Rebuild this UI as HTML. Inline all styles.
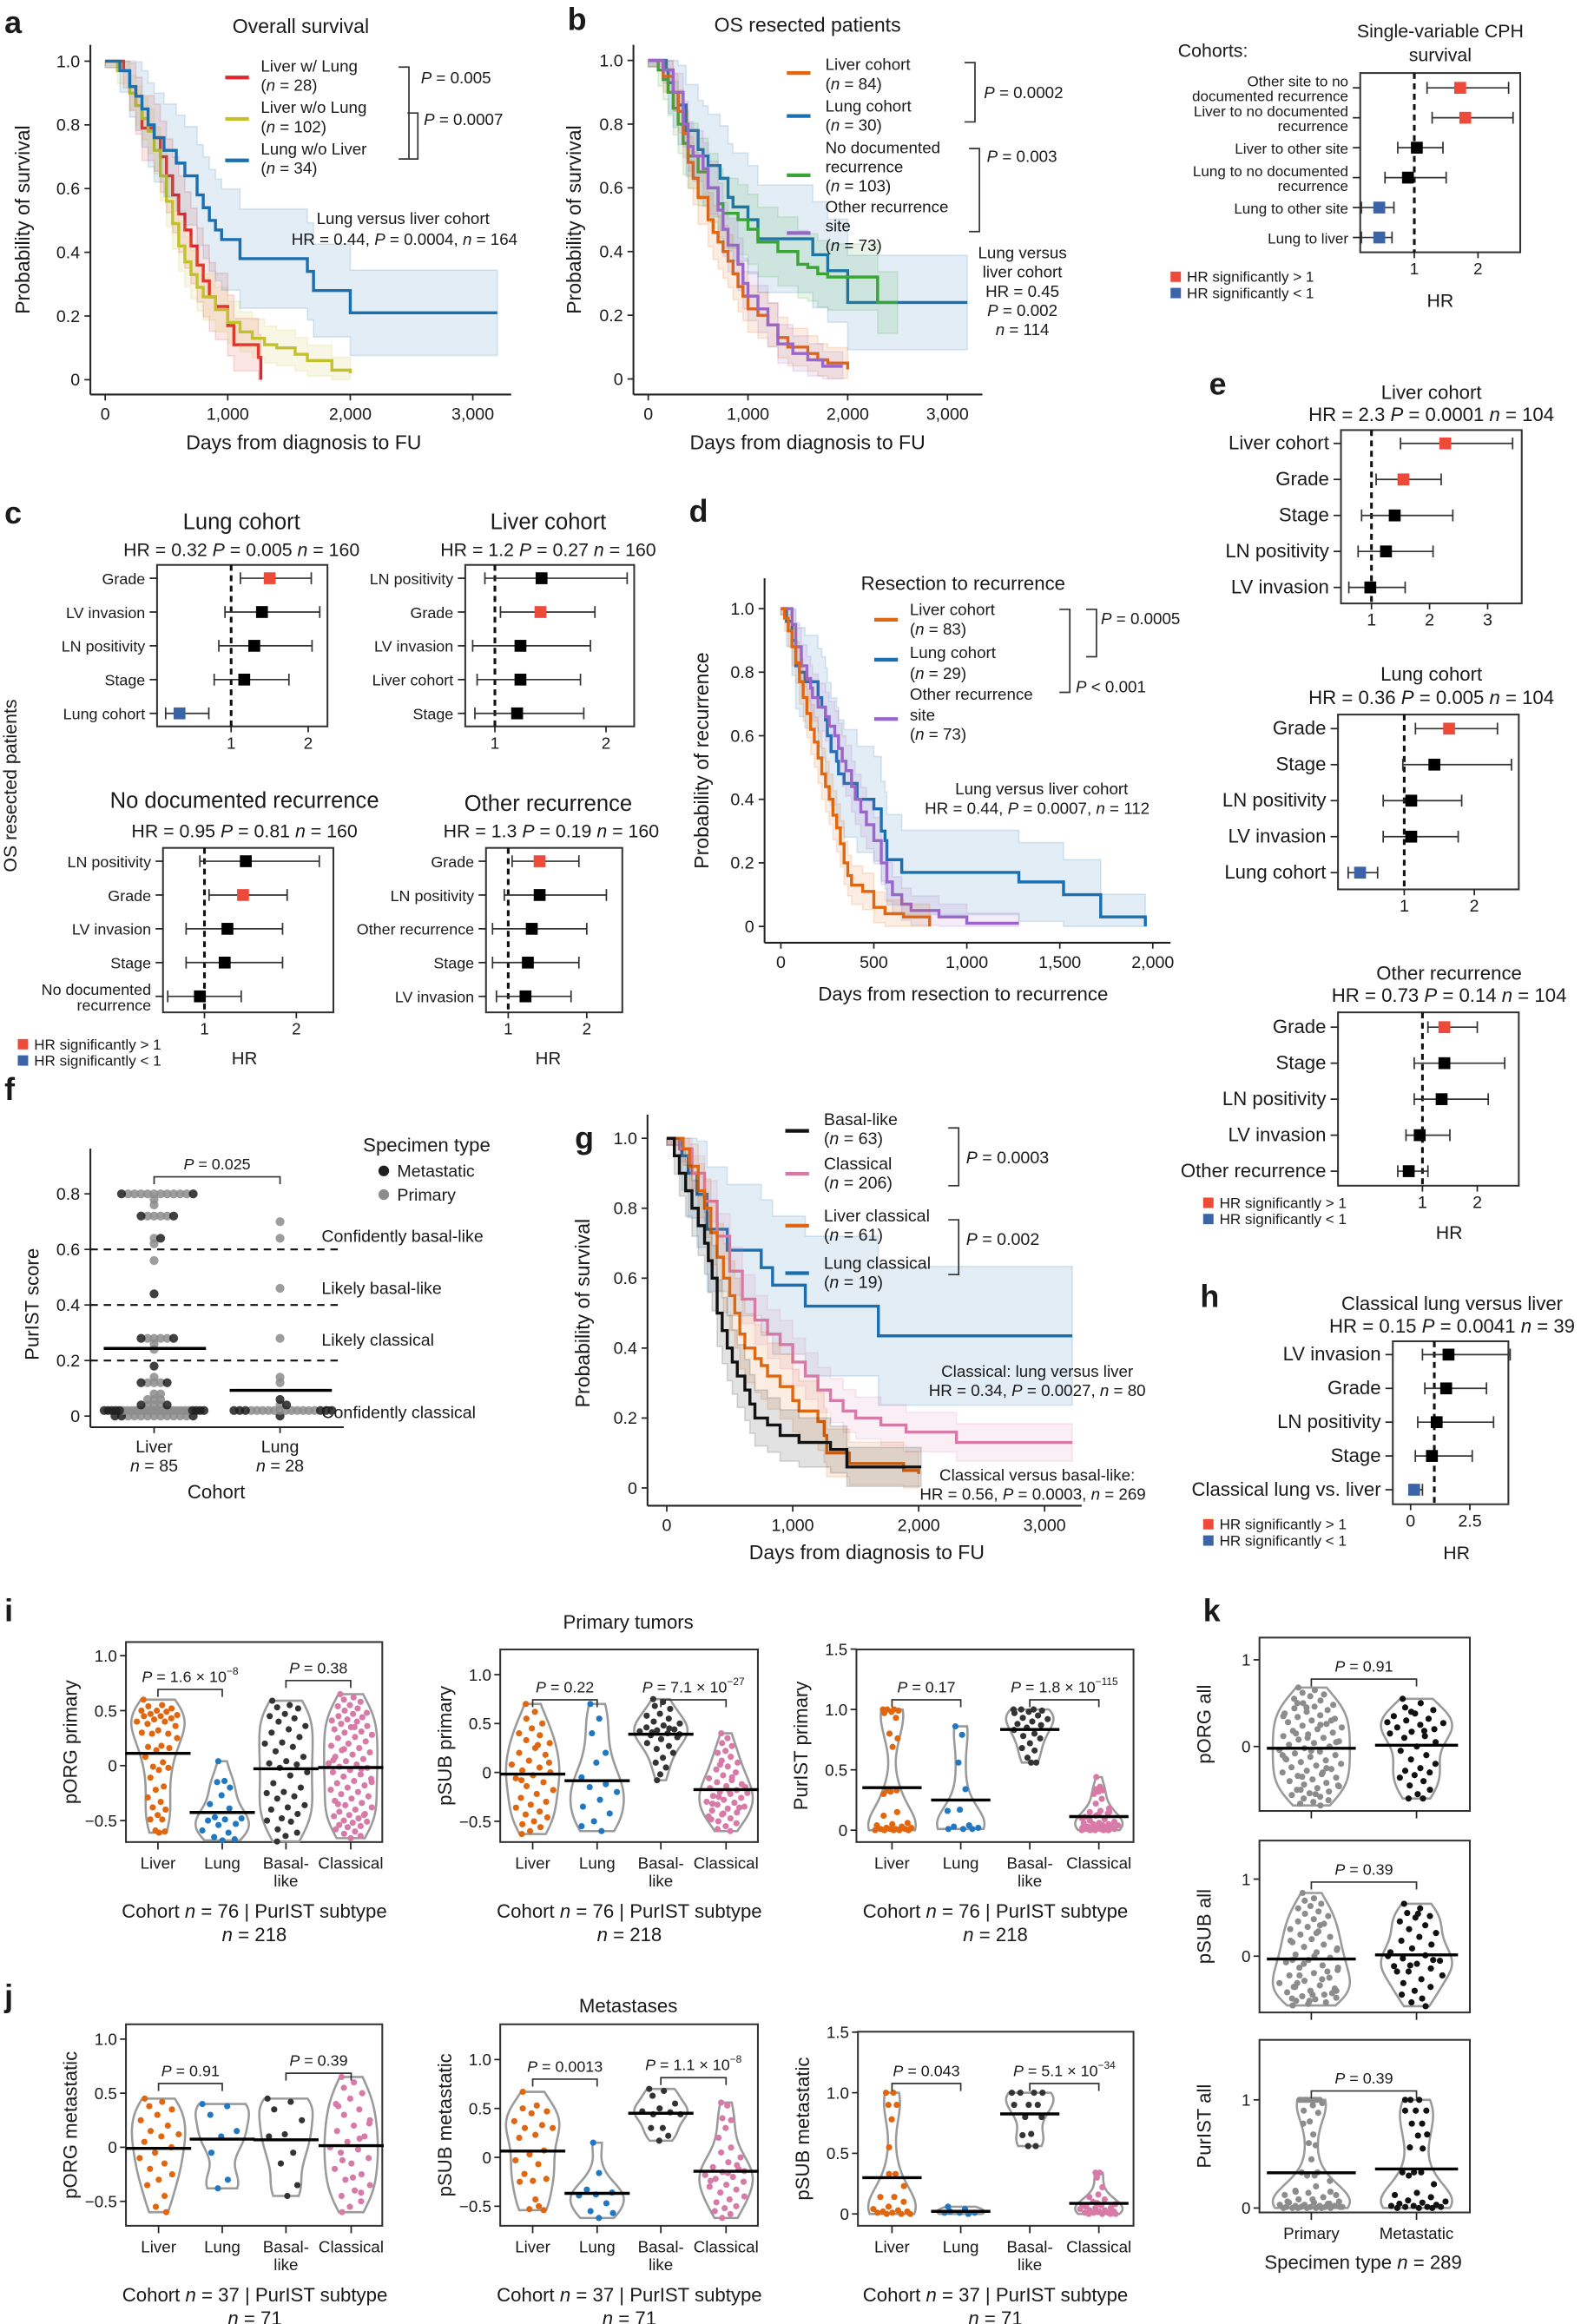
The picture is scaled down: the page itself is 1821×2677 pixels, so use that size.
<!DOCTYPE html>
<html><head><meta charset="utf-8"><title>Figure</title>
<style>
html,body{margin:0;padding:0;background:#fff;}
svg{display:block;font-family:"Liberation Sans",Arial,sans-serif;}
</style></head>
<body>
<svg id="fig" width="1821" height="2677" viewBox="0 0 1067 1568" xmlns="http://www.w3.org/2000/svg"></svg>
<script>
// ---------- DATA ----------
// Panel a
const aRedT=[0,150,200,250,300,350,400,450,500,550,600,650,700,750,800,850,900,1000,1050,1250,1270];
const aRedS=[1,.97,.92,.86,.79,.79,.76,.7,.64,.58,.52,.47,.42,.36,.31,.26,.23,.17,.11,.07,0];
const aYelT=[0,100,200,250,300,350,400,450,500,550,600,650,700,750,800,900,1000,1100,1200,1300,1400,1550,1650,1850,2000];
const aYelS=[1,.97,.9,.86,.82,.78,.72,.64,.56,.49,.42,.37,.33,.29,.26,.22,.18,.15,.13,.11,.1,.08,.06,.03,.02];
const aBluT=[0,120,200,250,300,350,400,480,580,650,750,800,850,900,950,1100,1650,1700,2000,3200];
const aBluS=[1,.97,.92,.89,.85,.8,.76,.72,.68,.64,.58,.54,.5,.47,.44,.38,.34,.28,.21,.21];
// Panel b
const bLivT=[0,150,250,300,350,400,450,500,600,650,700,750,800,850,900,950,1000,1100,1200,1300,1400,1600,1700,1800,2000];
const bLivS=[1,.95,.9,.84,.77,.68,.63,.57,.5,.46,.43,.4,.37,.33,.29,.26,.22,.2,.17,.13,.1,.08,.06,.05,.03];
const bLunT=[0,180,200,250,300,380,500,550,600,720,800,850,1000,1100,1650,1800,2000,3200];
const bLunS=[1,.97,.93,.9,.86,.78,.72,.7,.67,.63,.57,.54,.5,.44,.39,.34,.24,.24];
const bNdrT=[0,100,150,200,250,300,350,400,500,600,700,750,900,1000,1100,1300,1500,1600,1700,1800,2300,2500];
const bNdrS=[1,.97,.94,.9,.85,.8,.74,.7,.65,.6,.55,.52,.5,.47,.43,.4,.36,.35,.33,.32,.24,.24];
const bOthT=[0,150,250,350,400,450,550,600,700,750,800,900,950,1000,1100,1200,1300,1450,1600,1750,1950];
const bOthS=[1,.97,.9,.8,.73,.7,.66,.6,.53,.47,.42,.36,.3,.26,.22,.17,.11,.08,.06,.04,.04];
// Panel d
const dLivT=[0,20,40,60,80,100,120,140,160,180,200,220,240,260,280,300,320,340,360,380,440,500,560,660,800];
const dLivS=[1,.97,.93,.88,.83,.77,.72,.67,.62,.58,.53,.48,.44,.4,.35,.31,.26,.2,.16,.13,.11,.06,.04,.03,0];
const dLunT=[0,30,60,80,100,130,200,220,240,250,270,300,310,340,410,500,540,560,570,650,1280,1520,1720,1960];
const dLunS=[1,.96,.9,.82,.8,.77,.72,.69,.65,.6,.55,.52,.48,.45,.4,.37,.3,.27,.21,.17,.14,.1,.03,0];
const dOthT=[0,60,80,110,140,160,170,200,240,260,290,310,330,350,380,400,430,460,500,540,570,600,650,700,850,1000,1280];
const dOthS=[1,.95,.88,.82,.78,.75,.72,.69,.66,.63,.6,.56,.52,.49,.44,.4,.36,.32,.27,.2,.14,.1,.07,.05,.03,.01,.01];
// Panel g
const gBasT=[0,60,100,150,200,250,300,330,360,400,440,480,520,560,620,660,700,800,900,1050,1300,1430,2020];
const gBasS=[1,.95,.9,.85,.8,.75,.7,.65,.6,.5,.45,.4,.36,.32,.28,.24,.2,.18,.15,.13,.11,.06,.06];
const gClaT=[0,100,200,300,400,500,600,700,800,900,1000,1100,1200,1300,1400,1500,1700,1900,2300,3220];
const gClaS=[1,.97,.9,.82,.72,.62,.54,.48,.44,.41,.36,.32,.28,.25,.22,.2,.18,.16,.13,.13];
const gLivT=[0,130,180,250,300,350,400,450,500,540,580,620,700,750,800,900,1000,1050,1200,1250,1270,1450,1880,2000];
const gLivS=[1,.97,.92,.85,.8,.73,.66,.6,.55,.5,.44,.4,.37,.35,.32,.29,.25,.22,.19,.15,.1,.07,.05,.04];
const gLunT=[0,120,170,240,320,480,750,840,1100,1680,3220];
const gLunS=[1,.95,.9,.84,.74,.68,.63,.58,.52,.435,.435];
// Forest plots
const cphLabels=[["Other site to no","documented recurrence"],["Liver to no documented","recurrence"],["Liver to other site"],["Lung to no documented","recurrence"],["Lung to other site"],["Lung to liver"]];
const cphHR=[1.72,1.8,1.04,0.9,0.45,0.45];
const cphLo=[1.2,1.28,0.74,0.54,0.17,0.17];
const cphHi=[2.48,2.55,1.45,1.5,0.68,0.65];
const cLungLabels=[["Grade"],["LV invasion"],["LN positivity"],["Stage"],["Lung cohort"]];
const cLungHR=[1.5,1.4,1.3,1.17,0.33];
const cLungLo=[1.12,0.92,0.84,0.78,0.15];
const cLungHi=[2.04,2.15,2.05,1.75,0.71];
const cLivLabels=[["LN positivity"],["Grade"],["LV invasion"],["Liver cohort"],["Stage"]];
const cLivHR=[1.42,1.41,1.23,1.23,1.2];
const cLivLo=[0.91,1.05,0.8,0.84,0.82];
const cLivHi=[2.19,1.9,1.86,1.77,1.8];
const cNdrLabels=[["LN positivity"],["Grade"],["LV invasion"],["Stage"],["No documented","recurrence"]];
const cNdrHR=[1.45,1.42,1.25,1.22,0.95];
const cNdrLo=[0.95,1.05,0.8,0.8,0.6];
const cNdrHi=[2.25,1.9,1.85,1.85,1.4];
const cOthLabels=[["Grade"],["LN positivity"],["Other recurrence"],["Stage"],["LV invasion"]];
const cOthHR=[1.4,1.4,1.3,1.25,1.22];
const cOthLo=[1.05,0.95,0.8,0.8,0.85];
const cOthHi=[1.9,2.25,2.0,1.9,1.8];
const eLivLabels=[["Liver cohort"],["Grade"],["Stage"],["LN positivity"],["LV invasion"]];
const eLivHR=[2.27,1.55,1.4,1.25,0.98];
const eLivLo=[1.5,1.08,0.83,0.77,0.61];
const eLivHi=[3.43,2.2,2.4,2.06,1.58];
const eLunLabels=[["Grade"],["Stage"],["LN positivity"],["LV invasion"],["Lung cohort"]];
const eLunHR=[1.64,1.43,1.1,1.1,0.37];
const eLunLo=[1.16,0.98,0.7,0.7,0.2];
const eLunHi=[2.33,2.53,1.82,1.77,0.62];
const eOthLabels=[["Grade"],["Stage"],["LN positivity"],["LV invasion"],["Other recurrence"]];
const eOthHR=[1.4,1.4,1.35,0.95,0.75];
const eOthLo=[1.1,0.85,0.85,0.7,0.55];
const eOthHi=[2.0,2.5,2.2,1.5,1.1];
const hLabels=[["LV invasion"],["Grade"],["LN positivity"],["Stage"],["Classical lung vs. liver"]];
const hHR=[1.6,1.5,1.1,0.9,0.15];
const hLo=[0.5,0.6,0.3,0.2,0.05];
const hHi=[4.2,3.2,3.5,2.6,0.5];
// Panel f
const fLivPrim=[0.79,0.79,0.79,0.79,0.79,0.79,0.79,0.79,0.79,0.79,0.78,0.75,0.72,0.72,0.72,0.72,0.63,0.61,0.55,0.27,0.27,0.27,0.27,0.25,0.23,0.13,0.12,0.12,0.12,0.08,0.08,0.05,0.05,0.05,0.03,0.03,0.03,0.01,0.01,0.01,0.01,0.01,0.01,0.01,0.01,0.01,0.01,0.01,0.01,0.01,0.01,0.01,0.01,0.01,0.01,0,0,0,0,0,0,0,0,0,0];
const fLivMet=[0.79,0.79,0.72,0.72,0.63,0.44,0.27,0.27,0.18,0.11,0.11,0.03,0.03,0.02,0.01,0.01,0.01,0.01,0.01,0.01,0.01,0.01,0,0,0];
const fLunPrim=[0.69,0.63,0.45,0.27,0.13,0.12,0.04,0.01,0.01,0.01,0.01,0.01,0.01,0.01,0.01,0.01,0.01,0.01,0.01];
const fLunMet=[0.05,0.03,0.01,0.01,0.01,0.01,0.01,0.01,0];
// Panel i (primary)
const iOrgLiver=[0.6,0.55,0.54,0.52,0.5,0.5,0.49,0.47,0.46,0.45,0.45,0.43,0.42,0.4,0.4,0.38,0.36,0.32,0.3,0.29,0.29,0.25,0.18,0.17,0.16,0.14,0.08,0.03,-0.01,-0.02,-0.04,-0.11,-0.19,-0.22,-0.29,-0.33,-0.38,-0.4,-0.45,-0.49,-0.49,-0.59,-0.6,-0.61];
const iOrgLung=[0.04,-0.14,-0.15,-0.2,-0.27,-0.35,-0.39,-0.47,-0.48,-0.49,-0.5,-0.53,-0.54,-0.59,-0.61,-0.65,-0.67,-0.68];
const iOrgBasal=[0.59,0.55,0.53,0.52,0.47,0.45,0.43,0.4,0.36,0.33,0.3,0.26,0.21,0.2,0.17,0.13,0.08,0.04,0.02,0.01,-0.02,-0.06,-0.09,-0.16,-0.2,-0.24,-0.25,-0.28,-0.3,-0.36,-0.38,-0.4,-0.44,-0.48,-0.5,-0.51,-0.58,-0.61,-0.64,-0.69];
const iOrgClass=[0.65,0.62,0.6,0.58,0.55,0.54,0.52,0.5,0.48,0.47,0.45,0.44,0.42,0.41,0.4,0.38,0.36,0.35,0.33,0.31,0.3,0.28,0.26,0.25,0.22,0.2,0.18,0.16,0.14,0.12,0.1,0.08,0.06,0.04,0.02,0.01,-0.01,-0.02,-0.04,-0.06,-0.08,-0.1,-0.12,-0.14,-0.16,-0.18,-0.2,-0.22,-0.24,-0.26,-0.28,-0.3,-0.32,-0.34,-0.36,-0.38,-0.4,-0.42,-0.44,-0.45,-0.46,-0.48,-0.5,-0.51,-0.52,-0.54,-0.55,-0.56,-0.58,-0.6,-0.62,-0.64,-0.66,0.05,-0.03,0.15,-0.15,0.35,-0.35,-0.45];
const iSubLiver=[0.7,0.62,0.55,0.5,0.45,0.4,0.38,0.33,0.3,0.25,0.2,0.18,0.12,0.08,0.05,0.02,0,-0.03,-0.06,-0.1,-0.14,-0.18,-0.22,-0.26,-0.3,-0.33,-0.36,-0.4,-0.43,-0.46,-0.5,-0.53,-0.56,-0.6,-0.63,0.28,-0.08,0.1];
const iSubLung=[0.7,0.55,0.4,0.2,0.1,-0.05,-0.12,-0.15,-0.2,-0.28,-0.35,-0.42,-0.5,-0.55,-0.6];
const iSubBasal=[0.75,0.72,0.68,0.65,0.6,0.58,0.55,0.52,0.5,0.48,0.46,0.44,0.43,0.42,0.4,0.38,0.36,0.34,0.3,0.27,0.24,0.2,0.15,0.1,0.05,-0.02,-0.08,0.45,0.41,0.39];
const iSubClass=[0.4,0.35,0.3,0.27,0.22,0.2,0.16,0.12,0.1,0.06,0.03,0,-0.03,-0.06,-0.08,-0.1,-0.12,-0.14,-0.16,-0.18,-0.2,-0.21,-0.22,-0.24,-0.26,-0.28,-0.3,-0.31,-0.33,-0.35,-0.37,-0.39,-0.41,-0.43,-0.45,-0.47,-0.5,-0.52,-0.55,-0.58,-0.6,-0.25,-0.15,-0.19,-0.32,-0.36,-0.42,-0.48,-0.05,0.08];
const iPurLiver=[1,1,1,0.99,0.98,0.97,0.93,0.8,0.76,0.69,0.33,0.33,0.32,0.3,0.15,0.12,0.06,0.05,0.04,0.03,0.02,0.02,0.01,0.01,0.01,0.01,0,0,0,0,0];
const iPurLung=[0.86,0.79,0.56,0.34,0.17,0.16,0.04,0.03,0.02,0.01,0.01,0.01];
const iPurBasal=[1,1,1,0.99,0.98,0.97,0.95,0.93,0.92,0.9,0.88,0.87,0.85,0.83,0.8,0.78,0.76,0.72,0.68,0.66,0.6,0.56,0.56];
const iPurClass=[0.44,0.36,0.34,0.33,0.32,0.3,0.26,0.22,0.18,0.16,0.15,0.14,0.12,0.1,0.09,0.08,0.07,0.06,0.06,0.05,0.05,0.04,0.04,0.03,0.03,0.02,0.02,0.02,0.01,0.01,0.01,0.01,0,0,0,0,0,0.15,0.13,0.11];
// Panel j (metastases)
const jOrgLiver=[0.45,0.42,0.38,0.35,0.3,0.25,0.2,0.15,0.12,0.1,0.05,0,-0.05,-0.1,-0.15,-0.2,-0.25,-0.3,-0.35,-0.45,-0.55,-0.6];
const jOrgLung=[0.4,0.38,0.3,0.15,0.1,-0.05,-0.3,-0.38];
const jOrgBasal=[0.45,0.42,0.35,0.25,0.12,0.1,-0.05,-0.15,-0.35,-0.45];
const jOrgClass=[0.65,0.6,0.55,0.5,0.45,0.4,0.35,0.3,0.25,0.2,0.15,0.1,0.05,0,-0.02,-0.05,-0.1,-0.15,-0.2,-0.25,-0.3,-0.35,-0.4,-0.45,-0.5,-0.55,-0.6,0.08,-0.12,0.22,-0.28,0.38,-0.42];
const jSubLiver=[0.67,0.53,0.5,0.47,0.45,0.37,0.33,0.3,0.3,0.23,0.2,0.07,0.03,-0.03,-0.07,-0.17,-0.22,-0.24,-0.25,-0.5,-0.53,-0.54,-0.43];
const jSubLung=[0.15,-0.16,-0.33,-0.36,-0.38,-0.39,-0.47,-0.55,-0.57,-0.62];
const jSubBasal=[0.7,0.68,0.63,0.55,0.5,0.47,0.46,0.44,0.44,0.3,0.3,0.22,0.17];
const jSubClass=[0.56,0.53,0.4,0.38,0.3,0.2,0.1,0.05,0,-0.05,-0.1,-0.12,-0.15,-0.18,-0.2,-0.22,-0.25,-0.28,-0.3,-0.33,-0.36,-0.4,-0.43,-0.46,-0.5,-0.52,-0.55,-0.58,-0.62,-0.14,-0.16,-0.24,-0.08];
const jPurLiver=[1,1,0.9,0.9,0.78,0.55,0.33,0.33,0.23,0.14,0.14,0.1,0.06,0.04,0.03,0.02,0.02,0.01,0.01,0,0,0];
const jPurLung=[0.06,0.04,0.02,0.01,0.01,0.01,0];
const jPurBasal=[1,1,1,1,0.9,0.9,0.9,0.8,0.8,0.66,0.65,0.56,0.56];
const jPurClass=[0.34,0.34,0.3,0.22,0.16,0.14,0.12,0.1,0.08,0.07,0.06,0.05,0.05,0.04,0.03,0.03,0.02,0.02,0.01,0.01,0.01,0,0,0,0,0.09,0.07];
// Panel k
const kOrgPrim=[0.68,0.65,0.62,0.6,0.58,0.55,0.53,0.5,0.48,0.46,0.44,0.42,0.4,0.38,0.36,0.34,0.32,0.3,0.28,0.26,0.24,0.22,0.2,0.18,0.16,0.14,0.12,0.1,0.08,0.06,0.04,0.02,0,-0.02,-0.04,-0.06,-0.08,-0.1,-0.12,-0.14,-0.16,-0.18,-0.2,-0.22,-0.24,-0.26,-0.28,-0.3,-0.32,-0.34,-0.36,-0.38,-0.4,-0.42,-0.44,-0.46,-0.48,-0.5,-0.52,-0.54,-0.56,-0.58,-0.6,-0.62,-0.64,-0.66,-0.68,0.45,0.35,0.25,0.15,0.05,-0.05,-0.15,-0.25,-0.35,-0.45,-0.55,0.5,0.3,0.1,-0.1,-0.3,-0.5];
const kOrgMet=[0.55,0.5,0.45,0.42,0.38,0.35,0.32,0.3,0.27,0.25,0.22,0.2,0.17,0.15,0.12,0.1,0.05,0,-0.05,-0.1,-0.15,-0.2,-0.25,-0.28,-0.3,-0.33,-0.36,-0.4,-0.45,-0.5,-0.55,-0.6,-0.6,0.4,0.28,0.18];
const kSubPrim=[0.82,0.75,0.72,0.68,0.65,0.62,0.58,0.55,0.52,0.48,0.45,0.42,0.38,0.35,0.32,0.28,0.25,0.22,0.18,0.15,0.12,0.08,0.05,0.02,-0.02,-0.05,-0.08,-0.12,-0.15,-0.18,-0.22,-0.25,-0.28,-0.32,-0.35,-0.38,-0.4,-0.42,-0.45,-0.47,-0.5,-0.52,-0.54,-0.56,-0.58,-0.6,-0.62,-0.64,-0.3,-0.35,-0.45,-0.5,-0.55,-0.2,-0.1,0.1,0.3,-0.4,-0.48,-0.58,0.2,0.4,-0.25,-0.15,0,-0.05];
const kSubMet=[0.68,0.62,0.56,0.52,0.5,0.45,0.4,0.35,0.3,0.25,0.2,0.15,0.1,0.05,0.01,-0.03,-0.06,-0.1,-0.13,-0.16,-0.2,-0.25,-0.3,-0.35,-0.4,-0.45,-0.5,-0.55,-0.6,-0.65,0.55,-0.2,-0.05,-0.12,0.0];
const kPurPrim=[1,1,1,1,1,1,1,1,0.97,0.95,0.9,0.88,0.8,0.78,0.68,0.6,0.58,0.45,0.33,0.33,0.3,0.25,0.2,0.16,0.15,0.14,0.12,0.1,0.08,0.06,0.05,0.05,0.04,0.03,0.03,0.02,0.02,0.02,0.01,0.01,0.01,0.01,0.01,0,0,0,0,0,0,0,0.12,0.08,0.06,0.04,0.02,0.01,0.3,0.15];
const kPurMet=[1,1,1,0.9,0.9,0.9,0.78,0.78,0.68,0.67,0.56,0.55,0.33,0.33,0.33,0.3,0.22,0.14,0.12,0.1,0.07,0.06,0.05,0.04,0.03,0.02,0.02,0.01,0.01,0.01,0,0,0];

// ---------- HELPERS ----------
const NS='http://www.w3.org/2000/svg';
const svg=document.getElementById('fig');
function E(p,tag,at,name){
  const el=document.createElementNS(NS,tag);
  for(const k in at) el.setAttribute(k,at[k]);
  
  
  p.appendChild(el);return el;
}
function G(name){return E(svg,'g',{},name);}
function T(p,x,y,s,o,name){
  o=o||{};
  const at={x:x,y:y,'font-size':o.fs||12,'text-anchor':o.a||'start',fill:o.c||'#1a1a1a'};
  if(o.b) at['font-weight']='bold';
  if(o.r) at.transform='rotate(-90 '+x+' '+y+')';
  const el=E(p,'text',at,name);
  el.innerHTML=s;return el;
}
function L(p,x1,y1,x2,y2,st,name,w,dash){
  const at={x1:x1,y1:y1,x2:x2,y2:y2,stroke:st||'#222','stroke-width':w||1};
  if(dash) at['stroke-dasharray']=dash;
  return E(p,'line',at,name);
}
const I=s=>'<tspan font-style="italic">'+s+'</tspan>';

function kmAxes(g,x0,x1,ybot,ytop,X,Y,xt,xl,yt,yl,fs){
  L(g,x0,ytop,x0,ybot,'#222','y-axis-line',1.2);
  L(g,x0,ybot,x1,ybot,'#222','x-axis-line',1.2);
  yt.forEach((v,i)=>{L(g,x0-4,Y(v),x0,Y(v),'#222','y-tick');T(g,x0-7,Y(v)+4,yl[i],{a:'end',fs:fs||11.5},'y-tick-label');});
  xt.forEach((v,i)=>{L(g,X(v),ybot,X(v),ybot+4,'#222','x-tick');T(g,X(v),ybot+17,xl[i],{a:'middle',fs:fs||11.5},'x-tick-label');});
}
function km(g,X,Y,t,s,col,k,name){
  const hw=v=>0.02+k*Math.sqrt(Math.max(v*(1-v),0));
  const U=t.map((tt,i)=>Math.min(1,s[i]+hw(s[i])));
  const D=t.map((tt,i)=>Math.max(0,s[i]-hw(s[i])));
  let pts=[];
  for(let i=0;i<t.length;i++){ if(i>0) pts.push([X(t[i]),Y(U[i-1])]); pts.push([X(t[i]),Y(U[i])]); }
  let pb=[];
  for(let i=t.length-1;i>=0;i--){ pb.push([X(t[i]),Y(D[i])]); if(i>0) pb.push([X(t[i]),Y(D[i-1])]); }
  E(g,'polygon',{points:pts.concat(pb).map(p=>p.join(',')).join(' '),fill:col,'fill-opacity':0.12,stroke:col,'stroke-opacity':0.15},name+'-ci-band');
  let d='M'+X(t[0])+','+Y(s[0]);
  for(let i=1;i<t.length;i++) d+=' H'+X(t[i])+' V'+Y(s[i]);
  E(g,'path',{d:d,fill:'none',stroke:col,'stroke-width':2},name+'-curve');
}
function legLine(g,x,y,col,name){L(g,x,y,x+16,y,col,name,2.5);}
function bracket(g,x,y1,y2,name){E(g,'path',{d:'M'+(x-7)+','+y1+' H'+x+' V'+y2+' H'+(x-7),fill:'none',stroke:'#333','stroke-width':1},name);}

function forest(g,c,labels,hr,lo,hi,name){
  const X=v=>c.one+(v-1)*c.unit;
  E(g,'rect',{x:c.x0,y:c.y0,width:c.x1-c.x0,height:c.y1-c.y0,fill:'none',stroke:'#333','stroke-width':1.2},name+'-frame');
  L(g,X(1),c.y0,X(1),c.y1,'#111',name+'-reference-line',1.8,'4,3');
  c.ticks.forEach((v,i)=>{L(g,X(v),c.y1,X(v),c.y1+4,'#222',name+'-x-tick');T(g,X(v),c.y1+15,c.tl[i],{a:'middle',fs:c.tfs||11},name+'-x-tick-label');});
  labels.forEach((lab,i)=>{
    const y=c.r0+i*c.step;
    L(g,c.x0-5,y,c.x0,y,'#222',name+'-y-tick');
    if(lab.length===1) T(g,c.x0-8,y+4,lab[0],{a:'end',fs:c.fs},name+'-row-label');
    else {T(g,c.x0-8,y-1,lab[0],{a:'end',fs:c.fs},name+'-row-label');T(g,c.x0-8,y+c.fs-1,lab[1],{a:'end',fs:c.fs},name+'-row-label');}
    L(g,X(lo[i]),y,X(hi[i]),y,'#333',name+'-ci',1);
    L(g,X(lo[i]),y-4,X(lo[i]),y+4,'#333',name+'-ci-cap',1);
    L(g,X(hi[i]),y-4,X(hi[i]),y+4,'#333',name+'-ci-cap',1);
    const col=lo[i]>1?'#ee4a3a':(hi[i]<1?'#3b63a8':'#000');
    const sz=c.sq||8;
    E(g,'rect',{x:X(hr[i])-sz/2,y:y-sz/2,width:sz,height:sz,fill:col},name+'-hr-point');
  });
}
function sigLegend(g,x,y,fs,name){
  E(g,'rect',{x:x,y:y-7,width:7,height:7,fill:'#ee4a3a'},name+'-red-swatch');
  T(g,x+11,y,'HR significantly &gt; 1',{fs:fs},name+'-red-label');
  E(g,'rect',{x:x,y:y+4,width:7,height:7,fill:'#3b63a8'},name+'-blue-swatch');
  T(g,x+11,y+11,'HR significantly &lt; 1',{fs:fs},name+'-blue-label');
}
function kde(vals,y){const mn=Math.min(...vals),mx=Math.max(...vals);const bw=0.12*(mx-mn)+0.03;let s=0;vals.forEach(v=>{s+=Math.exp(-0.5*((y-v)/bw)**2);});return s;}
function violin(g,cx,vals,Y,col,maxW,name){
  const mn=Math.min(...vals),mx=Math.max(...vals);
  const N=40,ys=[],ds=[];
  for(let i=0;i<=N;i++){const v=mn+(mx-mn)*i/N;ys.push(v);ds.push(kde(vals,v));}
  const dm=Math.max(...ds);
  const W=v=>Math.max(2,kde(vals,v)/dm*maxW);
  let d='M'+(cx-W(ys[0]))+','+Y(ys[0]);
  for(let i=1;i<=N;i++) d+=' L'+(cx-W(ys[i]))+','+Y(ys[i]);
  for(let i=N;i>=0;i--) d+=' L'+(cx+W(ys[i]))+','+Y(ys[i]);
  d+=' Z';
  E(g,'path',{d:d,fill:'none',stroke:'#9a9a9a','stroke-width':1.5},name+'-violin');
  vals.forEach((v,i)=>{
    const j=(((i*0.6180339)%1)-0.5)*2*W(v)*0.85;
    E(g,'circle',{cx:cx+j,cy:Y(v),r:2.1,fill:col},name+'-point');
  });
  const m=vals.reduce((a,b)=>a+b,0)/vals.length;
  L(g,cx-maxW-4,Y(m),cx+maxW+4,Y(m),'#000',name+'-mean-line',2);
}
function vpanel(g,c,groups,name){
  const Y=v=>c.y0v-(v*c.unit);
  E(g,'rect',{x:c.x0,y:c.top,width:c.x1-c.x0,height:c.bot-c.top,fill:'none',stroke:'#333','stroke-width':1.2},name+'-frame');
  c.yt.forEach((v,i)=>{L(g,c.x0-4,Y(v),c.x0,Y(v),'#222',name+'-y-tick');T(g,c.x0-6,Y(v)+4,c.yl[i],{a:'end',fs:11},name+'-y-tick-label');});
  T(g,c.x0-33,(c.top+c.bot)/2,c.ylab,{a:'middle',fs:13,r:1},name+'-y-axis-title');
  groups.forEach(gr=>{
    L(g,gr.x,c.bot,gr.x,c.bot+5,'#222',name+'-x-tick');
    violin(g,gr.x,gr.v,Y,gr.c,gr.w||18,name+'-'+gr.n);
  });
  return Y;
}
function pbr(g,x1,x2,y,txt,name){
  E(g,'path',{d:'M'+x1+','+(y+5)+' V'+y+' H'+x2+' V'+(y+5),fill:'none',stroke:'#333','stroke-width':1},name+'-bracket');
  T(g,(x1+x2)/2,y-5,txt,{a:'middle',fs:10.5},name+'-p-value');
}

// ---------- PANEL LETTERS ----------
const letters=G('panel-letters');
[['a',3,22],['b',383,20],['c',3,353],['d',465,352],['e',816,266],['f',3,742],['g',388,775],['h',810,882],['i',3,1094],['j',3,1354],['k',812,1094]].forEach(l=>T(letters,l[1],l[2],l[0],{fs:21,b:1},'panel-letter-'+l[0]));

// ---------- PANEL A ----------
(function(){
const g=G('panel-a');
const X=t=>71+t*0.0827, Y=s=>256-s*215;
kmAxes(g,61,345,266,30,X,Y,[0,1000,2000,3000],['0','1,000','2,000','3,000'],[0,.2,.4,.6,.8,1],['0','0.2','0.4','0.6','0.8','1.0']);
km(g,X,Y,aRedT,aRedS,'#e3262d',0.2,'liver-with-lung');
km(g,X,Y,aYelT,aYelS,'#c3c12a',0.12,'liver-without-lung');
km(g,X,Y,aBluT,aBluS,'#1a6fb0',0.28,'lung-without-liver');
T(g,203,22,'Overall survival',{a:'middle',fs:13.5},'chart-title');
T(g,20,148,'Probability of survival',{a:'middle',fs:13.5,r:1},'y-axis-title');
T(g,205,303,'Days from diagnosis to FU',{a:'middle',fs:13.5},'x-axis-title');
const fs=11;
legLine(g,152,52,'#e3262d','legend-line-liver-with-lung');T(g,176,48,'Liver w/ Lung',{fs},'legend-label');T(g,176,61,'('+I('n')+' = 28)',{fs},'legend-n');
legLine(g,152,80,'#c3c12a','legend-line-liver-without-lung');T(g,176,76,'Liver w/o Lung',{fs},'legend-label');T(g,176,89,'('+I('n')+' = 102)',{fs},'legend-n');
legLine(g,152,108,'#1a6fb0','legend-line-lung-without-liver');T(g,176,104,'Lung w/o Liver',{fs},'legend-label');T(g,176,117,'('+I('n')+' = 34)',{fs},'legend-n');
bracket(g,276,45,107,'p-bracket-1');T(g,284,56,I('P')+' = 0.005',{fs},'p-value-1');
bracket(g,282,76,107,'p-bracket-2');T(g,286,84,I('P')+' = 0.0007',{fs},'p-value-2');
T(g,272,151,'Lung versus liver cohort',{a:'middle',fs},'annotation');
T(g,273,165,'HR = 0.44,  '+I('P')+' = 0.0004, '+I('n')+' = 164',{a:'middle',fs},'annotation-stats');
})();

// ---------- PANEL B ----------
(function(){
const g=G('panel-b');
const X=t=>437.5+t*0.0673, Y=s=>255.5-s*215;
kmAxes(g,427.5,663,266,30,X,Y,[0,1000,2000,3000],['0','1,000','2,000','3,000'],[0,.2,.4,.6,.8,1],['0','0.2','0.4','0.6','0.8','1.0']);
km(g,X,Y,bLunT,bLunS,'#1a6fb0',0.3,'lung-cohort');
km(g,X,Y,bNdrT,bNdrS,'#3aa537',0.18,'no-documented-recurrence');
km(g,X,Y,bLivT,bLivS,'#e0670f',0.13,'liver-cohort');
km(g,X,Y,bOthT,bOthS,'#9b66c9',0.13,'other-recurrence');
T(g,545,21,'OS resected patients',{a:'middle',fs:13.5},'chart-title');
T(g,392,148,'Probability of survival',{a:'middle',fs:13.5,r:1},'y-axis-title');
T(g,545,303,'Days from diagnosis to FU',{a:'middle',fs:13.5},'x-axis-title');
const lx=531,tx=557,fs=11;
legLine(g,lx,49,'#e0670f','legend-line-liver');T(g,tx,47,'Liver cohort',{fs},'legend-label');T(g,tx,60,'('+I('n')+' = 84)',{fs},'legend-n');
legLine(g,lx,78,'#1a6fb0','legend-line-lung');T(g,tx,75,'Lung cohort',{fs},'legend-label');T(g,tx,88,'('+I('n')+' = 30)',{fs},'legend-n');
legLine(g,lx,118,'#3aa537','legend-line-ndr');T(g,tx,103,'No documented',{fs},'legend-label');T(g,tx,116,'recurrence',{fs},'legend-label');T(g,tx,129,'('+I('n')+' = 103)',{fs},'legend-n');
legLine(g,lx,157,'#9b66c9','legend-line-other');T(g,tx,143,'Other recurrence',{fs},'legend-label');T(g,tx,156,'site',{fs},'legend-label');T(g,tx,169,'('+I('n')+' = 73)',{fs},'legend-n');
bracket(g,658,42,82,'p-bracket-1');T(g,664,66,I('P')+' = 0.0002',{fs},'p-value-1');
bracket(g,661,100,156,'p-bracket-2');T(g,666,109,I('P')+' = 0.003',{fs},'p-value-2');
['Lung versus','liver cohort','HR = 0.45',I('P')+' = 0.002',I('n')+' = 114'].forEach((s,i)=>T(g,690,174+i*13,s,{a:'middle',fs},'annotation-line'));
})();

// ---------- CPH PANEL ----------
(function(){
const g=G('panel-cph-single-variable');
forest(g,{x0:918,x1:1026,y0:49,y1:170,one:954.5,unit:43,r0:59,step:20.2,ticks:[1,2],tl:['1','2'],fs:10,tfs:11,sq:8},cphLabels,cphHR,cphLo,cphHi,'cph');
T(g,972,25,'Single-variable CPH',{a:'middle',fs:12.5},'chart-title');
T(g,972,41,'survival',{a:'middle',fs:12.5},'chart-title-line2');
T(g,795,38,'Cohorts:',{fs:12.5},'rows-title');
sigLegend(g,790,190,10,'cph-legend');
T(g,972,207,'HR',{a:'middle',fs:12.5},'x-axis-title');
})();

// ---------- PANEL C ----------
(function(){
const g=G('panel-c');
forest(g,{x0:106,x1:221,y0:381,y1:490,one:156,unit:52,r0:390,step:22.8,ticks:[1,2],tl:['1','2'],fs:10.5},cLungLabels,cLungHR,cLungLo,cLungHi,'c-lung');
T(g,163,357,'Lung cohort',{a:'middle',fs:15},'c-lung-title');
T(g,163,375,'HR = 0.32 '+I('P')+' = 0.005 '+I('n')+' = 160',{a:'middle',fs:12.5},'c-lung-stats');
forest(g,{x0:314,x1:428,y0:381,y1:490,one:334,unit:75,r0:390,step:22.8,ticks:[1,2],tl:['1','2'],fs:10.5},cLivLabels,cLivHR,cLivLo,cLivHi,'c-liver');
T(g,370,357,'Liver cohort',{a:'middle',fs:15},'c-liver-title');
T(g,370,375,'HR = 1.2 '+I('P')+' = 0.27 '+I('n')+' = 160',{a:'middle',fs:12.5},'c-liver-stats');
forest(g,{x0:110,x1:225,y0:572,y1:683,one:138,unit:62,r0:581,step:22.8,ticks:[1,2],tl:['1','2'],fs:10.5},cNdrLabels,cNdrHR,cNdrLo,cNdrHi,'c-ndr');
T(g,165,545,'No documented recurrence',{a:'middle',fs:15},'c-ndr-title');
T(g,165,565,'HR = 0.95 '+I('P')+' = 0.81 '+I('n')+' = 160',{a:'middle',fs:12.5},'c-ndr-stats');
forest(g,{x0:328,x1:420,y0:572,y1:683,one:343,unit:53,r0:581,step:22.8,ticks:[1,2],tl:['1','2'],fs:10.5},cOthLabels,cOthHR,cOthLo,cOthHi,'c-other');
T(g,370,547,'Other recurrence',{a:'middle',fs:15},'c-other-title');
T(g,372,565,'HR = 1.3 '+I('P')+' = 0.19 '+I('n')+' = 160',{a:'middle',fs:12.5},'c-other-stats');
T(g,11,530,'OS resected patients',{a:'middle',fs:12.5,r:1},'c-y-axis-title');
sigLegend(g,12,708,10,'c-legend');
T(g,165,718,'HR',{a:'middle',fs:12},'c-ndr-x-title');
T(g,370,718,'HR',{a:'middle',fs:12},'c-other-x-title');
})();

// ---------- PANEL D ----------
(function(){
const g=G('panel-d');
const X=t=>527+t*0.1255, Y=s=>625-s*214.5;
kmAxes(g,516,790,636,390,X,Y,[0,500,1000,1500,2000],['0','500','1,000','1,500','2,000'],[0,.2,.4,.6,.8,1],['0','0.2','0.4','0.6','0.8','1.0']);
km(g,X,Y,dLunT,dLunS,'#1a6fb0',0.3,'lung-cohort');
km(g,X,Y,dOthT,dOthS,'#9b66c9',0.12,'other-recurrence');
km(g,X,Y,dLivT,dLivS,'#e0670f',0.12,'liver-cohort');
T(g,650,398,'Resection to recurrence',{a:'middle',fs:13},'chart-title');
T(g,478,513,'Probability of recurrence',{a:'middle',fs:13.5,r:1},'y-axis-title');
T(g,650,675,'Days from resection to recurrence',{a:'middle',fs:13},'x-axis-title');
const lx=590,tx=614,fs=11;
legLine(g,lx,418,'#e0670f','legend-line-liver');T(g,tx,415,'Liver cohort',{fs},'legend-label');T(g,tx,428,'('+I('n')+' = 83)',{fs},'legend-n');
legLine(g,lx,445,'#1a6fb0','legend-line-lung');T(g,tx,444,'Lung cohort',{fs},'legend-label');T(g,tx,458,'('+I('n')+' = 29)',{fs},'legend-n');
legLine(g,lx,485,'#9b66c9','legend-line-other');T(g,tx,472,'Other recurrence',{fs},'legend-label');T(g,tx,486,'site',{fs},'legend-label');T(g,tx,499,'('+I('n')+' = 73)',{fs},'legend-n');
bracket(g,740,411,443,'p-bracket-1');T(g,743,421,I('P')+' = 0.0005',{fs},'p-value-1');
bracket(g,722,411,467,'p-bracket-2');T(g,726,467,I('P')+' &lt; 0.001',{fs},'p-value-2');
T(g,703,536,'Lung versus liver cohort',{a:'middle',fs},'annotation');
T(g,700,549,'HR = 0.44, '+I('P')+' = 0.0007, '+I('n')+' = 112',{a:'middle',fs},'annotation-stats');
})();

// ---------- PANEL E ----------
(function(){
const g=G('panel-e');
forest(g,{x0:905,x1:1027,y0:290,y1:407,one:925.6,unit:39.2,r0:299,step:24.3,ticks:[1,2,3],tl:['1','2','3'],fs:13,tfs:11.5},eLivLabels,eLivHR,eLivLo,eLivHi,'e-liver');
T(g,966,269,'Liver cohort',{a:'middle',fs:13},'e-liver-title');
T(g,966,284,'HR = 2.3 '+I('P')+' = 0.0001 '+I('n')+' = 104',{a:'middle',fs:13},'e-liver-stats');
forest(g,{x0:903,x1:1025,y0:482,y1:600,one:947.7,unit:47.3,r0:491.5,step:24.3,ticks:[1,2],tl:['1','2'],fs:13,tfs:11.5},eLunLabels,eLunHR,eLunLo,eLunHi,'e-lung');
T(g,966,459,'Lung cohort',{a:'middle',fs:13},'e-lung-title');
T(g,966,475,'HR = 0.36 '+I('P')+' = 0.005 '+I('n')+' = 104',{a:'middle',fs:13},'e-lung-stats');
forest(g,{x0:903,x1:1025,y0:683,y1:800,one:960,unit:37,r0:693,step:24.3,ticks:[1,2],tl:['1','2'],fs:13,tfs:11.5},eOthLabels,eOthHR,eOthLo,eOthHi,'e-other');
T(g,978,661,'Other recurrence',{a:'middle',fs:13},'e-other-title');
T(g,978,676,'HR = 0.73 '+I('P')+' = 0.14 '+I('n')+' = 104',{a:'middle',fs:13},'e-other-stats');
sigLegend(g,812,815,10,'e-legend');
T(g,978,836,'HR',{a:'middle',fs:12.5},'e-x-title');
})();

// ---------- PANEL H ----------
(function(){
const g=G('panel-h');
forest(g,{x0:940,x1:1018,y0:905,y1:1015,one:968,unit:16,r0:914,step:22.8,ticks:[0,2.5],tl:['0','2.5'],fs:13,tfs:11.5},hLabels,hHR,hLo,hHi,'h');
T(g,980,884,'Classical lung versus liver',{a:'middle',fs:13},'h-title');
T(g,980,899,'HR = 0.15 '+I('P')+' = 0.0041 '+I('n')+' = 39',{a:'middle',fs:13},'h-stats');
sigLegend(g,812,1032,10,'h-legend');
T(g,983,1052,'HR',{a:'middle',fs:12.5},'h-x-title');
})();

// ---------- PANEL F ----------
(function(){
const g=G('panel-f');
const Y=v=>955.5-v*187.5;
L(g,61,775,61,963,'#222','y-axis-line',1.2);L(g,61,963,232,963,'#222','x-axis-line',1.2);
[0,.2,.4,.6,.8].forEach((v,i)=>{L(g,57,Y(v),61,Y(v),'#222','y-tick');T(g,54,Y(v)+4,['0','0.2','0.4','0.6','0.8'][i],{a:'end',fs:11.5},'y-tick-label');});
[.6,.4,.2].forEach(v=>L(g,61,Y(v),232,Y(v),'#111','threshold-line',1.3,'5,4'));
function swarm(groups,cx){
  const bins={};
  groups.forEach(gr=>gr.v.forEach(v=>{const k=Math.round(v*50);(bins[k]=bins[k]||[]).push(gr.c);}));
  Object.keys(bins).forEach(k=>{const arr=bins[k];const n=arr.length;const sp=Math.min(4.4,70/Math.max(n,1));
    arr.forEach((col,i)=>{const off=(i%2?1:-1)*Math.ceil(i/2)*sp;
    E(g,'circle',{cx:cx+off,cy:Y(k/50),r:3,fill:col,'fill-opacity':0.85},'swarm-point');});});
}
swarm([{v:fLivPrim,c:'#8c8c8c'},{v:fLivMet,c:'#1f1f1f'}],104);
swarm([{v:fLunPrim,c:'#8c8c8c'},{v:fLunMet,c:'#1f1f1f'}],189);
const mean=a=>a.reduce((x,y)=>x+y,0)/a.length;
const liv=fLivPrim.concat(fLivMet), lun=fLunPrim.concat(fLunMet);
L(g,70,Y(mean(liv)),139,Y(mean(liv)),'#000','mean-line-liver',2);
L(g,155,Y(mean(lun)),224,Y(mean(lun)),'#000','mean-line-lung',2);
L(g,104,963,104,967,'#222','x-tick');L(g,189,963,189,967,'#222','x-tick');
T(g,104,980,'Liver',{a:'middle',fs:11.5},'x-tick-label');T(g,104,993,I('n')+' = 85',{a:'middle',fs:11.5},'x-tick-n');
T(g,189,980,'Lung',{a:'middle',fs:11.5},'x-tick-label');T(g,189,993,I('n')+' = 28',{a:'middle',fs:11.5},'x-tick-n');
T(g,146,1011,'Cohort',{a:'middle',fs:13},'x-axis-title');
T(g,26,880,'PurIST score',{a:'middle',fs:13,r:1},'y-axis-title');
pbr(g,104,189,794,I('P')+' = 0.025','f');
T(g,288,777,'Specimen type',{a:'middle',fs:13},'legend-title');
E(g,'circle',{cx:259,cy:790,r:3.6,fill:'#1f1f1f'},'legend-swatch-metastatic');T(g,268,794,'Metastatic',{fs:11.5},'legend-label-metastatic');
E(g,'circle',{cx:259,cy:806,r:3.6,fill:'#8c8c8c'},'legend-swatch-primary');T(g,268,810,'Primary',{fs:11.5},'legend-label-primary');
T(g,217,838,'Confidently basal-like',{fs:11.5},'band-label');
T(g,217,873,'Likely basal-like',{fs:11.5},'band-label');
T(g,217,908,'Likely classical',{fs:11.5},'band-label');
T(g,217,957,'Confidently classical',{fs:11.5},'band-label');
})();

// ---------- PANEL G ----------
(function(){
const g=G('panel-g');
const X=t=>450+t*0.085, Y=s=>1004-s*236;
kmAxes(g,437,730,1016,752,X,Y,[0,1000,2000,3000],['0','1,000','2,000','3,000'],[0,.2,.4,.6,.8,1],['0','0.2','0.4','0.6','0.8','1.0']);
km(g,X,Y,gLunT,gLunS,'#1a6fb0',0.36,'lung-classical');
km(g,X,Y,gClaT,gClaS,'#d87aa8',0.1,'classical');
km(g,X,Y,gLivT,gLivS,'#e0670f',0.16,'liver-classical');
km(g,X,Y,gBasT,gBasS,'#111',0.15,'basal-like');
T(g,398,886,'Probability of survival',{a:'middle',fs:13.5,r:1},'y-axis-title');
T(g,585,1052,'Days from diagnosis to FU',{a:'middle',fs:13.5},'x-axis-title');
const lx=530,tx=556,fs=11.5;
legLine(g,lx,763,'#111','legend-line-basal');T(g,tx,759,'Basal-like',{fs},'legend-label');T(g,tx,772,'('+I('n')+' = 63)',{fs},'legend-n');
legLine(g,lx,792,'#d87aa8','legend-line-classical');T(g,tx,789,'Classical',{fs},'legend-label');T(g,tx,802,'('+I('n')+' = 206)',{fs},'legend-n');
legLine(g,lx,827,'#e0670f','legend-line-liver-classical');T(g,tx,824,'Liver classical',{fs},'legend-label');T(g,tx,837,'('+I('n')+' = 61)',{fs},'legend-n');
legLine(g,lx,859,'#1a6fb0','legend-line-lung-classical');T(g,tx,856,'Lung classical',{fs},'legend-label');T(g,tx,869,'('+I('n')+' = 19)',{fs},'legend-n');
bracket(g,647,761,800,'p-bracket-1');T(g,652,785,I('P')+' = 0.0003',{fs},'p-value-1');
bracket(g,647,823,860,'p-bracket-2');T(g,652,840,I('P')+' = 0.002',{fs},'p-value-2');
T(g,700,929,'Classical: lung versus liver',{a:'middle',fs:11},'annotation-1');
T(g,700,942,'HR = 0.34, '+I('P')+' = 0.0027, '+I('n')+' = 80',{a:'middle',fs:11},'annotation-1-stats');
T(g,700,999,'Classical versus basal-like:',{a:'middle',fs:11},'annotation-2');
T(g,697,1012,'HR = 0.56, '+I('P')+' = 0.0003, '+I('n')+' = 269',{a:'middle',fs:11},'annotation-2-stats');
})();

// ---------- PANELS I / J ----------
const OR='#e0670f',BL='#1f78c1',DK='#333',PK='#d87aa8';
function subLabels(g,xs,yb,l1,l2,name){
  T(g,xs[0],yb+18,'Liver',{a:'middle',fs:11},name+'-x-label');
  T(g,xs[1],yb+18,'Lung',{a:'middle',fs:11},name+'-x-label');
  T(g,xs[2],yb+18,'Basal-',{a:'middle',fs:11},name+'-x-label');
  T(g,xs[2],yb+30,'like',{a:'middle',fs:11},name+'-x-label');
  T(g,xs[3],yb+18,'Classical',{a:'middle',fs:11},name+'-x-label');
  T(g,(xs[0]+xs[3])/2,yb+51,l1,{a:'middle',fs:13},name+'-x-title');
  T(g,(xs[0]+xs[3])/2,yb+67,l2,{a:'middle',fs:13},name+'-x-title-line2');
}
(function(){
const g=G('panel-i');
T(g,424,1099,'Primary tumors',{a:'middle',fs:13},'title');
let xs=[106.6,150,193,236.7];
vpanel(g,{x0:85,x1:258,top:1108,bot:1243,y0v:1191.4,unit:74.2,yt:[1,.5,0,-.5],yl:['1.0','0.5','0','−0.5'],ylab:'pORG primary'},[{x:xs[0],v:iOrgLiver,c:OR,n:'liver'},{x:xs[1],v:iOrgLung,c:BL,n:'lung'},{x:xs[2],v:iOrgBasal,c:DK,n:'basal'},{x:xs[3],v:iOrgClass,c:PK,n:'classical'}],'i-porg');
pbr(g,xs[0],xs[1],1140,I('P')+' = 1.6 × 10<tspan dy="-5" font-size="7">−8</tspan>','i-porg-1');
pbr(g,xs[2],xs[3],1134,I('P')+' = 0.38','i-porg-2');
subLabels(g,xs,1243,'Cohort '+I('n')+' = 76 | PurIST subtype',I('n')+' = 218','i-porg');
xs=[359.5,403,446,490];
vpanel(g,{x0:337.6,x1:511.5,top:1113,bot:1243,y0v:1196,unit:66,yt:[1,.5,0,-.5],yl:['1.0','0.5','0','−0.5'],ylab:'pSUB primary'},[{x:xs[0],v:iSubLiver,c:OR,n:'liver'},{x:xs[1],v:iSubLung,c:BL,n:'lung'},{x:xs[2],v:iSubBasal,c:DK,n:'basal'},{x:xs[3],v:iSubClass,c:PK,n:'classical'}],'i-psub');
pbr(g,xs[0],xs[1],1147,I('P')+' = 0.22','i-psub-1');
pbr(g,xs[2],xs[3],1147,I('P')+' = 7.1 × 10<tspan dy="-5" font-size="7">−27</tspan>','i-psub-2');
subLabels(g,xs,1243,'Cohort '+I('n')+' = 76 | PurIST subtype',I('n')+' = 218','i-psub');
xs=[602,648.4,695,741.6];
vpanel(g,{x0:578,x1:765,top:1113,bot:1243,y0v:1235,unit:81.5,yt:[1.5,1,.5,0],yl:['1.5','1.0','0.5','0'],ylab:'PurIST primary'},[{x:xs[0],v:iPurLiver,c:OR,n:'liver',w:16},{x:xs[1],v:iPurLung,c:BL,n:'lung',w:16},{x:xs[2],v:iPurBasal,c:DK,n:'basal',w:16},{x:xs[3],v:iPurClass,c:PK,n:'classical',w:16}],'i-purist');
pbr(g,xs[0],xs[1],1147,I('P')+' = 0.17','i-purist-1');
pbr(g,xs[2],xs[3],1147,I('P')+' = 1.8 × 10<tspan dy="-5" font-size="7">−115</tspan>','i-purist-2');
subLabels(g,xs,1243,'Cohort '+I('n')+' = 76 | PurIST subtype',I('n')+' = 218','i-purist');
})();
(function(){
const g=G('panel-j');
T(g,424,1358,'Metastases',{a:'middle',fs:13},'title');
let xs=[107,150,193,237];
vpanel(g,{x0:85,x1:258,top:1366,bot:1502,y0v:1449,unit:73,yt:[1,.5,0,-.5],yl:['1.0','0.5','0','−0.5'],ylab:'pORG metastatic'},[{x:xs[0],v:jOrgLiver,c:OR,n:'liver'},{x:xs[1],v:jOrgLung,c:BL,n:'lung'},{x:xs[2],v:jOrgBasal,c:DK,n:'basal'},{x:xs[3],v:jOrgClass,c:PK,n:'classical'}],'j-porg');
pbr(g,xs[0],xs[1],1406,I('P')+' = 0.91','j-porg-1');
pbr(g,xs[2],xs[3],1399,I('P')+' = 0.39','j-porg-2');
subLabels(g,xs,1502,'Cohort '+I('n')+' = 37 | PurIST subtype',I('n')+' = 71','j-porg');
xs=[359.5,403,446,490];
vpanel(g,{x0:337.6,x1:511.5,top:1366,bot:1502,y0v:1455.8,unit:66,yt:[1,.5,0,-.5],yl:['1.0','0.5','0','−0.5'],ylab:'pSUB metastatic'},[{x:xs[0],v:jSubLiver,c:OR,n:'liver'},{x:xs[1],v:jSubLung,c:BL,n:'lung'},{x:xs[2],v:jSubBasal,c:DK,n:'basal'},{x:xs[3],v:jSubClass,c:PK,n:'classical'}],'j-psub');
pbr(g,xs[0],xs[1],1403,I('P')+' = 0.0013','j-psub-1');
pbr(g,xs[2],xs[3],1402,I('P')+' = 1.1 × 10<tspan dy="-5" font-size="7">−8</tspan>','j-psub-2');
subLabels(g,xs,1502,'Cohort '+I('n')+' = 37 | PurIST subtype',I('n')+' = 71','j-psub');
xs=[602,648.4,695,741.6];
vpanel(g,{x0:579,x1:765,top:1371,bot:1502,y0v:1494,unit:81.8,yt:[1.5,1,.5,0],yl:['1.5','1.0','0.5','0'],ylab:'pSUB metastatic'},[{x:xs[0],v:jPurLiver,c:OR,n:'liver',w:16},{x:xs[1],v:jPurLung,c:BL,n:'lung',w:16},{x:xs[2],v:jPurBasal,c:DK,n:'basal',w:16},{x:xs[3],v:jPurClass,c:PK,n:'classical',w:16}],'j-purist');
pbr(g,xs[0],xs[1],1406,I('P')+' = 0.043','j-purist-1');
pbr(g,xs[2],xs[3],1406,I('P')+' = 5.1 × 10<tspan dy="-5" font-size="7">−34</tspan>','j-purist-2');
subLabels(g,xs,1502,'Cohort '+I('n')+' = 37 | PurIST subtype',I('n')+' = 71','j-purist');
})();

// ---------- PANEL K ----------
(function(){
const g=G('panel-k');
const xs=[885,956];
vpanel(g,{x0:850,x1:992,top:1105,bot:1222,y0v:1178.5,unit:58.5,yt:[1,0],yl:['1','0'],ylab:'pORG all'},[{x:xs[0],v:kOrgPrim,c:'#8c8c8c',n:'primary',w:26},{x:xs[1],v:kOrgMet,c:'#111',n:'metastatic',w:24}],'k-porg');
pbr(g,xs[0],xs[1],1133,I('P')+' = 0.91','k-porg');
vpanel(g,{x0:850,x1:992,top:1242,bot:1358,y0v:1320,unit:52,yt:[1,0],yl:['1','0'],ylab:'pSUB all'},[{x:xs[0],v:kSubPrim,c:'#8c8c8c',n:'primary',w:26},{x:xs[1],v:kSubMet,c:'#111',n:'metastatic',w:24}],'k-psub');
pbr(g,xs[0],xs[1],1270,I('P')+' = 0.39','k-psub');
vpanel(g,{x0:850,x1:992,top:1376.5,bot:1493,y0v:1490,unit:73,yt:[1,0],yl:['1','0'],ylab:'PurIST all'},[{x:xs[0],v:kPurPrim,c:'#8c8c8c',n:'primary',w:26},{x:xs[1],v:kPurMet,c:'#111',n:'metastatic',w:24}],'k-purist');
pbr(g,xs[0],xs[1],1411,I('P')+' = 0.39','k-purist');
T(g,xs[0],1511,'Primary',{a:'middle',fs:11},'k-x-label-primary');
T(g,xs[1],1511,'Metastatic',{a:'middle',fs:11},'k-x-label-metastatic');
T(g,920,1531,'Specimen type '+I('n')+' = 289',{a:'middle',fs:13},'k-x-title');
})();
</script>
</body></html>
